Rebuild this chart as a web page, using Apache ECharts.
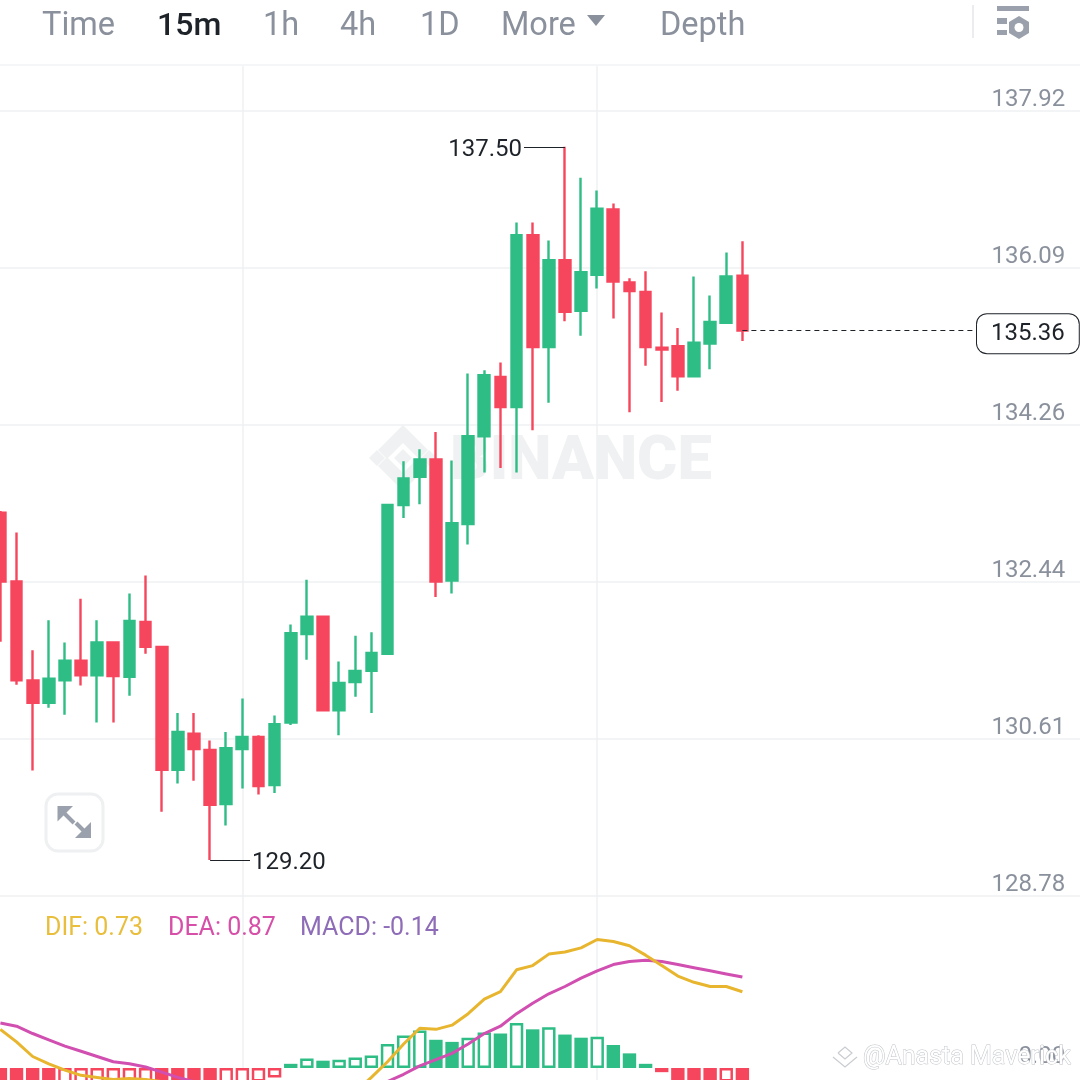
<!DOCTYPE html>
<html>
<head>
<meta charset="utf-8">
<style>html,body{margin:0;padding:0;background:#fff;overflow:hidden}#chart{width:1080px;height:1080px}</style>
<script src="https://cdn.jsdelivr.net/npm/echarts@6/dist/echarts.min.js"></script>
</head>
<body>
<div id="chart"></div>
<script>
// candles
const opens = [133.24,132.44,131.29,131.03,131.29,131.52,131.35,131.73,131.33,131.97,131.68,130.25,130.67,130.48,129.85,130.49,130.63,130.07,130.80,131.83,132.03,130.94,131.27,131.40,131.60,133.33,133.66,133.86,132.45,133.11,134.13,134.82,134.47,136.47,135.17,136.18,135.59,136.01,136.77,135.92,135.81,135.16,135.18,134.83,135.21,135.45,136.00];
const closes = [132.44,131.29,131.03,131.31,131.52,131.35,131.73,131.34,131.98,131.68,130.25,130.69,130.49,129.84,130.50,130.63,130.06,130.78,131.84,132.03,130.94,131.26,131.40,131.61,133.33,133.64,133.86,132.44,133.12,134.13,134.84,134.47,136.47,135.17,136.18,135.58,136.04,136.78,135.93,135.82,135.17,135.14,134.83,135.22,135.46,135.99,135.36];
const lows = [131.74,131.24,130.24,130.97,130.89,131.23,130.80,130.80,131.11,131.60,129.76,130.09,130.12,129.20,129.60,130.03,129.96,129.98,130.77,131.53,130.93,130.65,131.10,130.91,131.60,133.18,133.34,132.26,132.30,132.87,133.71,133.76,133.71,134.20,134.52,135.47,135.30,135.85,135.50,134.41,134.95,134.53,134.66,134.83,134.91,135.45,135.24];
const highs = [133.26,133.01,131.64,131.99,131.73,132.24,131.99,131.73,132.30,132.51,131.68,130.91,130.91,130.59,130.69,131.08,130.65,130.88,131.94,132.46,132.04,131.51,131.81,131.85,133.33,133.84,133.98,134.18,133.85,134.86,134.90,134.99,136.62,136.62,136.41,137.50,137.14,136.99,136.84,135.97,136.05,135.57,135.39,135.99,135.77,136.27,136.40];

// MACD pane
const dif = [0.37,0.25,0.11,0.04,-0.02,-0.07,-0.09,-0.11,-0.10,-0.11,-0.13,-0.19,-0.25,-0.33,-0.36,-0.36,-0.38,-0.38,-0.33,-0.31,-0.30,-0.29,-0.23,-0.09,0.06,0.23,0.38,0.37,0.41,0.52,0.66,0.73,0.94,0.98,1.09,1.11,1.15,1.23,1.21,1.17,1.08,0.98,0.88,0.82,0.78,0.78,0.73];
const dea = [0.43,0.40,0.33,0.27,0.21,0.16,0.11,0.06,0.04,0.01,-0.04,-0.09,-0.13,-0.16,-0.19,-0.21,-0.23,-0.24,-0.25,-0.25,-0.25,-0.24,-0.22,-0.18,-0.13,-0.06,0.02,0.08,0.14,0.23,0.33,0.40,0.52,0.62,0.71,0.78,0.86,0.93,0.99,1.02,1.03,1.02,0.99,0.96,0.93,0.90,0.87];
const macd = [-0.24,-0.26,-0.28,-0.30,-0.28,-0.26,-0.24,-0.22,-0.20,-0.18,-0.19,-0.20,-0.21,-0.22,-0.19,-0.16,-0.13,-0.09,0.04,0.09,0.07,0.08,0.10,0.12,0.23,0.31,0.36,0.27,0.25,0.29,0.34,0.33,0.43,0.37,0.39,0.32,0.29,0.30,0.22,0.14,0.04,-0.04,-0.125,-0.14,-0.15,-0.13,-0.14];

const priceTicks = [137.92,136.09,134.26,132.44,130.61,128.78];
const macdTicks = [0];
const gridBars = [15,37];
const tabs = ['Time','15m','1h','4h','1D','More','Depth'];
const tabX = [42,157,263,340,420,501,660];
const lastPrice = 135.36;
const highIdx = 35, highPrice = 137.50;
const lowIdx = 13, lowPrice = 129.20;

const RED = '#F6465D', GREEN = '#2EBD85', INK = '#1E2329', GREY = '#8A919C', LINE = '#EEF0F2', MARK = '#F0F1F2';
const FONT = 'Roboto, sans-serif';

// room to the right of the last candle, as on the phone screen
const categories = Array.from({length: 68}, (_, i) => String(i));
const candles = opens.map((o, i) => [o, closes[i], lows[i], highs[i]]);
// bar is hollow while it grows from the previous one
const macdBars = macd.map((v, i) => {
  const col = v >= 0 ? GREEN : RED;
  const hollow = i > 0 && v > macd[i - 1];
  return {value: v, itemStyle: {color: hollow ? '#fff' : col, borderColor: col, borderWidth: hollow ? 2.5 : 0}};
});

function txt(text, x, y, size, fill, align, weight) {
  return {type: 'text', x: x, y: y, z: 5, silent: true, style: {
    text: text, fill: fill, textAlign: align || 'left', textVerticalAlign: 'middle',
    font: (weight || 400) + ' ' + size + 'px ' + FONT
  }};
}
function poly(points, fill, z) {
  return {type: 'polygon', z: z === undefined ? 5 : z, silent: true, shape: {points: points}, style: {fill: fill}};
}
function box(x, y, w, h, fill) {
  return {type: 'rect', z: 5, silent: true, shape: {x: x, y: y, width: w, height: h}, style: {fill: fill}};
}
function stem(x1, y1, x2, y2, col) {
  return {type: 'line', z: 5, silent: true, shape: {x1: x1, y1: y1, x2: x2, y2: y2}, style: {stroke: col, lineWidth: 4}};
}

const tabEls = tabs.map((t, i) => t === '15m'
  ? txt(t, tabX[i], 27, 32, INK, 'left', 500)
  : txt(t, tabX[i], 27, 32.5, GREY));

const headerEls = [
  box(0, 64, 1080, 2, '#F5F6F7'),
  box(972, 5, 2, 33, '#EAECEF'),
  poly([[587,15],[605,15],[596,26]], GREY),
  box(997, 6, 32, 5, '#9AA1AC'),
  box(997, 18, 10, 6, '#9AA1AC'),
  box(997, 30, 10, 5, '#9AA1AC'),
  poly([[1019,16],[1029,22],[1029,33],[1019,39],[1009,33],[1009,22]], '#9AA1AC'),
  {type: 'circle', z: 6, silent: true, shape: {cx: 1019, cy: 27.5, r: 4.5}, style: {fill: '#fff'}}
];

const zoomEls = [
  {type: 'rect', z: 5, silent: true, shape: {x: 46, y: 794, width: 57, height: 57, r: 12}, style: {fill: '#fff', stroke: '#EEF0F2', lineWidth: 3}},
  poly([[57.5,806],[73,806],[57.5,821.5]], '#9AA1AC'),
  stem(62, 811, 74, 823, '#9AA1AC'),
  poly([[91,838],[75,838],[91,822]], '#9AA1AC'),
  stem(86, 833, 76, 823, '#9AA1AC')
];

const watermarkEls = [
  poly([[403,425],[428,450],[419,459],[403,443],[387,459],[378,450]], MARK, -1),
  poly([[403,491],[428,466],[419,457],[403,473],[387,457],[378,466]], MARK, -1),
  poly([[403,449],[412,458],[403,467],[394,458]], MARK, -1),
  poly([[377,450],[385,458],[377,466],[369,458]], MARK, -1),
  poly([[429,450],[437,458],[429,466],[421,458]], MARK, -1),
  Object.assign(txt('BINANCE', 450, 464, 61.5, MARK, 'left', 900), {z: -1})
];

const legendEls = [
  txt('DIF: ' + dif[dif.length - 1].toFixed(2), 45, 929, 25, '#E8BE3C'),
  txt('DEA: ' + dea[dea.length - 1].toFixed(2), 168, 929, 25, '#D64FA8'),
  txt('MACD: ' + macd[macd.length - 1].toFixed(2), 300, 929, 25, '#8E6CB8')
];

const creditEls = [
  {type: 'polyline', z: 7, silent: true, shape: {points: [[833,1057],[845,1067],[857,1057]]}, style: {stroke: '#C9CCD0', lineWidth: 1.2, fill: 'none'}},
  {type: 'polyline', z: 7, silent: true, shape: {points: [[838,1053],[845,1059],[852,1053],[845,1047],[838,1053]]}, style: {stroke: '#C9CCD0', lineWidth: 1.2, fill: 'none'}},
  {type: 'text', x: 863, y: 1058, z: 7, silent: true, style: {
    text: '@Anasta Maverick', textAlign: 'left', textVerticalAlign: 'middle',
    font: '400 25px ' + FONT, fill: '#fff', stroke: '#BFC3C8', lineWidth: 1
  }}
];

function leader(idx, price, endX) {
  const opt = {
    label: {show: true, position: 'end', distance: 2, offset: [0, 3], formatter: price.toFixed(2), color: INK, fontSize: 24, fontFamily: FONT},
    lineStyle: {color: INK, width: 1, type: 'solid'}
  };
  return [Object.assign({coord: [idx, price]}, opt), Object.assign({x: endX, coord: [idx, price]}, opt)];
}

const lastOpt = {
  label: {
    show: true, position: 'end', distance: 0, offset: [0, 3], formatter: lastPrice.toFixed(2), color: INK,
    fontSize: 24, fontFamily: FONT, backgroundColor: '#fff', borderColor: INK, borderWidth: 1,
    borderRadius: 10, padding: [9, 14, 6, 14]
  },
  lineStyle: {color: INK, width: 1, type: [5, 4]}
};

const chart = echarts.init(document.getElementById('chart'), null, {renderer: 'canvas'});
chart.setOption({
  animation: false,
  backgroundColor: '#fff',
  grid: [
    {left: -7.665, top: 66, width: 1096.84, height: 830, outerBoundsMode: 'none'},
    {left: -7.665, top: 896, width: 1096.84, height: 300, outerBoundsMode: 'none'}
  ],
  xAxis: [0, 1].map(g => ({
    type: 'category', gridIndex: g, data: categories,
    axisLine: {show: false}, axisTick: {show: false}, axisLabel: {show: false},
    splitLine: {show: true, alignWithLabel: true, interval: i => gridBars.includes(i), lineStyle: {color: LINE, width: 1.5}}
  })),
  yAxis: [
    {
      type: 'value', gridIndex: 0, position: 'right', min: 128.78, max: 138.44,
      axisLine: {show: false},
      axisTick: {show: false, customValues: priceTicks},
      splitLine: {show: true, lineStyle: {color: LINE, width: 1.5}},
      axisLabel: {
        inside: true, margin: 24, customValues: priceTicks, formatter: v => v.toFixed(2),
        color: GREY, fontSize: 24, fontFamily: FONT, verticalAlign: 'bottom', lineHeight: 22
      }
    },
    {
      type: 'value', gridIndex: 1, position: 'right', min: -1.225, max: 1.646,
      axisLine: {show: false},
      axisTick: {show: false, customValues: macdTicks},
      splitLine: {show: false},
      axisLabel: {
        inside: true, margin: 24, customValues: macdTicks, formatter: v => v.toFixed(2),
        color: GREY, fontSize: 24, fontFamily: FONT, verticalAlign: 'bottom', lineHeight: 22
      }
    }
  ],
  series: [
    {
      type: 'candlestick', name: 'price', xAxisIndex: 0, yAxisIndex: 0, data: candles, barWidth: 11.2,
      itemStyle: {color: GREEN, color0: RED, borderColor: GREEN, borderColor0: RED, borderWidth: 2.4},
      markLine: {
        silent: true, symbol: 'none', animation: false,
        data: [
          leader(highIdx, highPrice, 524),
          leader(lowIdx, lowPrice, 250),
          [Object.assign({coord: [46, lastPrice]}, lastOpt), Object.assign({x: 977, coord: [46, lastPrice]}, lastOpt)]
        ]
      }
    },
    {type: 'bar', name: 'MACD', xAxisIndex: 1, yAxisIndex: 1, data: macdBars, barWidth: 13.4},
    {type: 'line', name: 'DEA', xAxisIndex: 1, yAxisIndex: 1, data: dea, symbol: 'none', z: 3, lineStyle: {color: '#D14FB0', width: 3}},
    {type: 'line', name: 'DIF', xAxisIndex: 1, yAxisIndex: 1, data: dif, symbol: 'none', z: 4, lineStyle: {color: '#E8B52E', width: 3}}
  ],
  graphic: {elements: [].concat(watermarkEls, tabEls, headerEls, zoomEls, legendEls, creditEls)}
});
</script>
</body>
</html>
